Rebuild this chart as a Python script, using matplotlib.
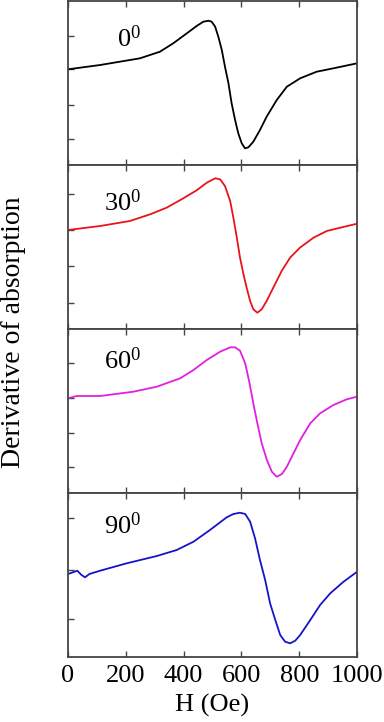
import numpy as np
import matplotlib
matplotlib.use('Agg')
import matplotlib.pyplot as plt

plt.rcParams['font.family'] = ['Liberation Serif', 'DejaVu Serif']
plt.rcParams['mathtext.fontset'] = 'custom'
plt.rcParams['mathtext.rm'] = 'Liberation Serif'
plt.rcParams['mathtext.it'] = 'Liberation Serif:italic'

# field values (Oe) and signal (arb. units, 0..164)
h0 = [0, 111, 249, 318, 364, 411, 445, 468, 486, 497, 509, 520, 532, 543, 555, 566, 578, 589,
      601, 612, 624, 641, 664, 687, 722, 757, 803, 860, 918, 1000]
s0 = [95.7, 100, 106.7, 113.3, 121.7, 131.7, 139, 143.3, 144.3, 143.3, 138.3, 128.3, 115, 98.3,
      81.7, 61.7, 45, 31.7, 21.7, 16.7, 17.7, 23.3, 35, 48.3, 65, 78.3, 86.7, 93.3, 96.7, 101.7]

h30 = [0, 111, 214, 284, 341, 399, 445, 480, 509, 526, 543, 561, 572, 584, 595, 607, 618, 630,
       641, 655, 670, 687, 710, 739, 768, 802, 849, 895, 941, 1000]
s30 = [99, 103, 108, 114.7, 121.3, 130.7, 138.7, 146.3, 150.7, 149.7, 143, 128, 111.3, 91.3,
       71.3, 54.7, 41.3, 28, 19.7, 16.3, 19.7, 28, 41.3, 58, 71.3, 81.3, 91.3, 98, 101.3, 105.3]

h60 = [0, 30, 111, 226, 307, 388, 434, 480, 526, 561, 578, 595, 613, 628, 641, 655, 670, 688,
       705, 722, 740, 757, 780, 803, 838, 872, 918, 964, 1000]
s60 = [94.7, 97, 97, 101.3, 106.3, 114.7, 123, 133, 141.3, 145.7, 145.7, 142.3, 129.7, 109.7,
       89.7, 69.7, 49.7, 33, 21.3, 16.3, 19, 26.3, 39.7, 53, 69.7, 79.7, 88, 93.7, 96.3]

h90 = [0, 13, 32, 47, 59, 74, 111, 203, 307, 376, 434, 491, 549, 572, 595, 613, 630, 647, 664,
       682, 699, 717, 734, 751, 768, 786, 803, 838, 872, 907, 953, 1000]
s90 = [83, 84.3, 86.3, 82, 79.7, 83, 86.3, 93.7, 101, 107, 115.3, 127, 139.7, 143, 144.3, 143,
       135.3, 118.7, 97, 77, 53.7, 37, 22, 15.3, 13.7, 16.3, 22, 37, 52, 63.7, 75.3, 85.3]

curves = [(h0, s0), (h30, s30), (h60, s60), (h90, s90)]
angles = ['0', '30', '60', '90']
colors = ['black', '#e8141c', '#e020e0', '#1414c8']
yticks = [[129, 96, 60, 26], [135, 99, 63, 26], [130, 95, 60, 26], [139, 87, 38]]
label_pos = [(0.21, 0.77), (0.19, 0.77), (0.19, 0.81), (0.19, 0.80)]

fig, axes = plt.subplots(4, 1, figsize=(3.84, 7.22), dpi=100, sharex=True)
fig.subplots_adjust(left=0.177, right=0.93, top=0.9986, bottom=0.09, hspace=0)

for i, ax in enumerate(axes):
    h, s = curves[i]
    ax.plot(h, s, color=colors[i], lw=1.3)
    ax.set_xlim(0, 1000)
    ax.set_ylim(0, 164)
    ax.set_yticks(yticks[i])
    ax.set_yticklabels([])
    ax.set_xticks([0, 200, 400, 600, 800, 1000])
    ax.tick_params(direction='in', length=4, width=1, top=True, bottom=True,
                   left=True, right=False, color='#444444')
    for sp in ax.spines.values():
        sp.set_linewidth(1.3)
        sp.set_color('#444444')
    ax.text(label_pos[i][0], label_pos[i][1], angles[i] + '$^0$', transform=ax.transAxes,
            fontsize=19, ha='center', va='center')

axes[-1].tick_params(labelsize=19, pad=6)
axes[-1].set_xlabel('H (Oe)', fontsize=19, labelpad=5)
fig.text(0.035, 0.54, 'Derivative of absorption', rotation=90, fontsize=20,
         ha='center', va='center')

fig.savefig('out.png', dpi=100)
